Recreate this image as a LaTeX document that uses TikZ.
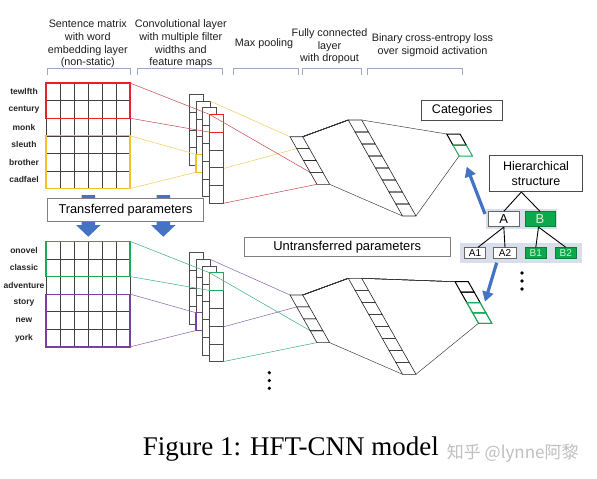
\documentclass[tikz,border=0pt]{standalone}
\usepackage{fontspec}
\setmainfont{Liberation Sans}
\newfontfamily\capfont{Liberation Serif}
\newfontfamily\cjkfont{Noto Sans CJK SC}
\usetikzlibrary{arrows.meta}
\definecolor{hdrc}{HTML}{1E1E1E}
\definecolor{brkc}{HTML}{9AAAC4}
\definecolor{myred}{HTML}{E8202A}
\definecolor{redline}{HTML}{C84850}
\definecolor{myyellow}{HTML}{F2C12E}
\definecolor{yelline}{HTML}{F0CC60}
\definecolor{mygreen}{HTML}{1FA85A}
\definecolor{greenline}{HTML}{3AAE86}
\definecolor{mypurple}{HTML}{7B3FA0}
\definecolor{purpline}{HTML}{8A60A8}
\definecolor{myblue}{HTML}{4472C4}
\definecolor{bgreen}{HTML}{0EA84C}
\definecolor{bandc}{HTML}{D9DFEA}
\definecolor{btext}{HTML}{CFF5D9}

\newcommand\scell[5]{\draw[#5] ({#1},{#2}) -- ++(#3,0) -- ++({0.565*#4},#4) -- ++({-#3},0) -- cycle;}
\newcommand\convcol[3]{%
  \draw[convbox] (#1,#2) rectangle ++(14,{(#3+1)*17.8});
  \foreach \k in {1,...,#3} \draw[convline] (#1,{#2+\k*17.8}) -- ++(14,0);
}
\newcommand\wordlabels[6]{%
  \node[word] (w1) at (24,91.8) {#1};
  \node[word] (w2) at (24,109.4) {#2};
  \node[word] (w3) at (24,127) {#3};
  \node[word] (w4) at (24,144.6) {#4};
  \node[word] (w5) at (24,162.2) {#5};
  \node[word] (w6) at (24,179.8) {#6};}
\newcommand\cnnbody{%
  \foreach \i in {0,...,6} \draw[gridl] (46,{83+\i*17.6}) -- (130,{83+\i*17.6});
  \foreach \j in {0,...,6} \draw[gridl] ({46+\j*14},83) -- ({46+\j*14},188.6);
  \coordinate (m0) at (46,83);
  \coordinate (m1) at (130,83);
  \coordinate (m2) at (130,118.2);
  \coordinate (m3) at (130,135.8);
  \coordinate (m3l) at (46,135.8);
  \coordinate (m4) at (130,188.6);
  \draw[cboxA] (m0) rectangle (m2);
  \draw[cboxB] (m3l) rectangle (m4);
  \convcol{189.3}{94.3}{3}
  \convcol{196}{101}{3}
  \coordinate (yb1) at (196,154.4);
  \coordinate (yb2) at (196,172.2);
  \coordinate (c2tr) at (210,101);
  \coordinate (c2br) at (210,172.2);
  \draw[cboxB] (yb1) rectangle (c2br);
  \coordinate (p1) at (290,136.7);
  \coordinate (p2) at (302.7,136.7);
  \coordinate (p3) at (316.9,184.3);
  \coordinate (p4) at (329.6,184.3);
  \coordinate (pB) at (296.7,148.6);
  \coordinate (pA) at (310.2,172.4);
  \draw[clineB] (m3) -- (yb1);
  \draw[clineB] (m4) -- (yb2);
  \draw[clineB] (c2tr) -- (p1);
  \draw[clineB] (c2br) -- (pB);
  \convcol{202.7}{107.7}{4}
  \convcol{209.3}{114.3}{4}
  \coordinate (rb1) at (209.3,114.3);
  \coordinate (rb2) at (209.3,132.1);
  \coordinate (rb3) at (223.3,132.1);
  \coordinate (c4br) at (223.3,203.3);
  \draw[cboxA] (rb1) rectangle (rb3);
  \draw[clineA] (m1) -- (rb1);
  \draw[clineA] (m2) -- (rb2);
  \draw[clineA] (rb1) -- (pA);
  \draw[clineA] (c4br) -- (p3);
  \foreach \k in {0,...,3} \scell{290+0.565*\k*11.9}{136.7+\k*11.9}{12.7}{11.9}{strip}
  \coordinate (f1) at (348.3,120);
  \coordinate (f2) at (361.7,120);
  \coordinate (f3) at (402.5,216);
  \coordinate (f4) at (415.9,216);
  \foreach \k in {0,...,7} \scell{348.3+0.565*\k*12}{120+\k*12}{13.4}{12}{strip}
  \draw[thinl] (p2) -- (f1);
  \draw[thinl] (p4) -- (f3);
}

\begin{document}
\begin{tikzpicture}[x=1pt,y=-1pt,
  hdr/.style={font=\fontsize{10.8}{12.8}\selectfont, align=center, inner sep=0pt, text=hdrc},
  brk/.style={draw=brkc, line width=0.8pt},
  word/.style={font=\bfseries\fontsize{8.5}{10}\selectfont, inner sep=0pt, text=black!85},
  gridl/.style={draw=black!75, line width=0.5pt},
  convbox/.style={draw=black!70, fill=white, line width=0.6pt},
  convline/.style={draw=black!70, line width=0.5pt},
  cboxA/.style={draw=cA, line width=1.2pt},
  cboxB/.style={draw=cB, line width=1.2pt},
  clineA/.style={draw=lA, line width=0.5pt},
  clineB/.style={draw=lB, line width=0.5pt},
  strip/.style={draw=black!85, line width=0.6pt},
  thinl/.style={draw=black!80, line width=0.45pt},
  outblk/.style={draw=black, line width=1pt},
  outgrn/.style={draw=mygreen, line width=1pt},
  parbox/.style={draw=black!50, line width=1pt, fill=white, inner sep=0pt},
  catbox/.style={draw=black!70, line width=0.9pt, fill=white, inner sep=0pt},
  abox/.style={draw=black!60, line width=0.8pt, fill=white, inner sep=0pt},
  bbox/.style={draw=bgreen!75!black, line width=0.8pt, fill=bgreen, text=btext, inner sep=0pt},
  treel/.style={draw=black, line width=0.9pt},
  bluearrow/.style={draw=myblue, line width=3.2pt, -{Triangle[length=10pt,width=11pt]}},
  blockarrow/.style={fill=myblue}
]
\useasboundingbox (0,0) rectangle (597,479);
\fill[white] (0,0) rectangle (597,479);

% headers
\node[hdr, anchor=north] (h1) at (87.8,19.5) {Sentence matrix\\with word\\embedding layer\\(non-static)};
\node[hdr, anchor=north] (h2) at (180.8,19.5) {Convolutional layer\\with multiple filter\\widths and\\feature maps};
\node[hdr, anchor=base] (h3) at (264,46.7) {Max pooling};
\node[hdr, anchor=north] (h4) at (329.5,28.2) {Fully connected\\layer\\with dropout};
\node[hdr, anchor=north] (h5) at (432.5,33.9) {Binary cross-entropy loss\\over sigmoid activation};
\draw[brk] (47.7,75) -- (47.7,68.5) -- (130,68.5) -- (130,75);
\draw[brk] (137.3,75) -- (137.3,68.5) -- (222.7,68.5) -- (222.7,75);
\draw[brk] (233.3,75) -- (233.3,68.5) -- (298.3,68.5) -- (298.3,75);
\draw[brk] (302.3,75) -- (302.3,68.5) -- (361.7,68.5) -- (361.7,75);
\draw[brk] (367.3,75) -- (367.3,68.5) -- (462.7,68.5) -- (462.7,75);

% top group
\begin{scope}[name prefix=t-]
  \colorlet{cA}{myred}\colorlet{lA}{redline}\colorlet{cB}{myyellow}\colorlet{lB}{yelline}
  \wordlabels{tewlfth}{century}{monk}{sleuth}{brother}{cadfael}
  \cnnbody
  \coordinate (o1) at (446.7,134);
  \coordinate (o3) at (459.1,156);
  \scell{446.7}{134}{13.3}{11}{outblk}
  \scell{446.7+0.565*11}{145}{13.3}{11}{outgrn}
  \draw[thinl] (f2) -- (o1);
  \draw[thinl] (f4) -- (o3);
\end{scope}

% bottom group
\begin{scope}[shift={(0,158.3)}, name prefix=b-]
  \colorlet{cA}{mygreen}\colorlet{lA}{greenline}\colorlet{cB}{mypurple}\colorlet{lB}{purpline}
  \wordlabels{onovel}{classic}{adventure}{story}{new}{york}
  \cnnbody
  \coordinate (o1) at (455,123.4);
  \coordinate (o3) at (478.5,165);
  \foreach \k in {0,1} \scell{455+0.565*\k*10.4}{123.4+\k*10.4}{13.3}{10.4}{outblk}
  \foreach \k in {2,3} \scell{455+0.565*\k*10.4}{123.4+\k*10.4}{13.3}{10.4}{outgrn}
  \draw[thinl] (f2) -- (o1);
  \draw[thinl] (f4) -- (o3);
\end{scope}

% transferred parameters with block arrows
\foreach \x in {88.3,163.3}
  \fill[blockarrow] ({\x-6.7},195) -- ({\x+6.7},195) -- ({\x+6.7},225) -- ({\x+12.3},225) -- (\x,236.7) -- ({\x-12.3},225) -- ({\x-6.7},225) -- cycle;
\node[parbox, minimum width=155.6pt, minimum height=22.7pt, font=\fontsize{12.8}{14}\selectfont] (trans) at (125.5,210.3) {Transferred parameters};
\node[parbox, minimum width=205.7pt, minimum height=19.4pt, font=\fontsize{12.9}{14}\selectfont] (untrans) at (347.2,247) {Untransferred parameters};

% categories and hierarchy
\node[catbox, minimum width=81pt, minimum height=20pt, font=\fontsize{12.5}{14}\selectfont] (cat) at (462.2,110.7) {Categories};
\node[catbox, minimum width=93.4pt, minimum height=36.7pt, align=center, font=\fontsize{12.5}{15}\selectfont] (hier) at (536,173.3) {Hierarchical\\structure};
\fill[bandc] (486,209) rectangle (557.3,229.3);
\fill[bandc] (460,242.7) rectangle (581.7,262.7);
\node[abox, minimum width=31pt, minimum height=15pt, font=\fontsize{13}{14}\selectfont] (A) at (503.8,219.2) {A};
\node[bbox, minimum width=30pt, minimum height=15pt, font=\fontsize{13}{14}\selectfont] (B) at (540,219.2) {B};
\node[abox, minimum width=21.4pt, minimum height=10.6pt, font=\fontsize{10}{11}\selectfont] (A1) at (475,253) {A1};
\node[abox, minimum width=23.4pt, minimum height=10.6pt, font=\fontsize{10}{11}\selectfont] (A2) at (505,253) {A2};
\node[bbox, minimum width=21.7pt, minimum height=10.6pt, font=\fontsize{10}{11}\selectfont] (B1) at (535.8,253) {B1};
\node[bbox, minimum width=21.7pt, minimum height=10.6pt, font=\fontsize{10}{11}\selectfont] (B2) at (565.8,253) {B2};
\draw[treel] ([xshift=-14.7pt]hier.south) -- (A.north);
\draw[treel] ([xshift=-14.7pt]hier.south) -- (B.north);
\draw[treel] (A.south) -- ([xshift=3pt]A1.north);
\draw[treel] (A.south) -- (A2.north);
\draw[treel] ([xshift=-1.5pt]B.south) -- (B1.north);
\draw[treel] ([xshift=-1.5pt]B.south) -- (B2.north);

% blue arrows
\coordinate (upS) at (485,214);
\coordinate (upE) at (466.7,166.7);
\coordinate (dnS) at (496.7,262.7);
\coordinate (dnE) at (485,301.7);
\draw[bluearrow] (upS) -- (upE);
\draw[bluearrow] (dnS) -- (dnE);

% dots
\foreach \y in {273,281,289} \fill (522,\y) circle[radius=1.8pt];
\foreach \y in {372.7,380.5,388.3} \fill (269.3,\y) circle[radius=1.8pt];

% caption
\node[anchor=base west, inner sep=0pt, font=\capfont\fontsize{27}{30}\selectfont] (cap) at (142.7,455) {Figure 1: HFT-CNN model};
\node[anchor=base west, inner sep=0pt, text=black!25, font=\cjkfont\fontsize{17}{20}\selectfont] (wm) at (446.7,458.5) {知乎 @lynne阿黎};
\end{tikzpicture}
\end{document}
